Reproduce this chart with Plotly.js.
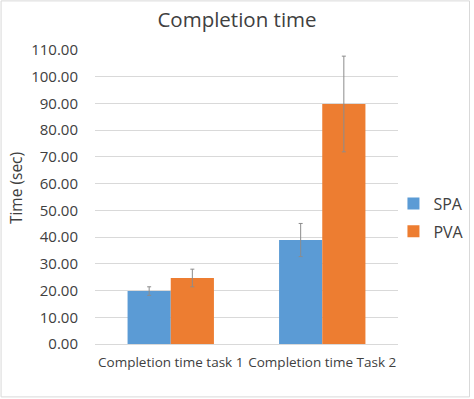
<!DOCTYPE html>
<html><head><meta charset="utf-8">
<script src="https://cdn.plot.ly/plotly-3.0.1.min.js"></script>
<style>html,body{margin:0;padding:0;background:#fff}#chart{width:474px;height:399px}</style>
</head><body><div id="chart"></div>
<script>
const categories = ["Completion time task 1", "Completion time Task 2"];
const spaValues = [19.8, 38.9];
const spaErrors = [1.6, 6.2];
const pvaValues = [24.7, 89.8];
const pvaErrors = [3.3, 17.9];
const yTicks = [0,10,20,30,40,50,60,70,80,90,100,110];

const errStyle = {type:'data', visible:true, color:'#8c8c8c', thickness:1, width:2};
const traces = [
  {type:'bar', name:'SPA', legendgroup:'a', x:categories, y:spaValues, marker:{color:'#5B9BD5'},
   error_y:Object.assign({array:spaErrors}, errStyle)},
  {type:'bar', name:'PVA', legendgroup:'b', x:categories, y:pvaValues, marker:{color:'#ED7D31'},
   error_y:Object.assign({array:pvaErrors}, errStyle)}
];
const layout = {
  width:474, height:399,
  margin:{l:95, r:76, t:50, b:55, autoexpand:false},
  paper_bgcolor:'#fff', plot_bgcolor:'#fff',
  font:{family:'Open Sans, sans-serif', color:'#595959'},
  title:{text:'Completion time', font:{size:20.5, color:'#404040'}, x:0.5, xanchor:'center', y:0.95, yanchor:'middle'},
  barmode:'group', bargap:0.43, bargroupgap:0,
  xaxis:{type:'category', showgrid:false, showline:false, ticks:'', automargin:false, ticklabelstandoff:8, tickfont:{size:13.5, color:'#404040'}},
  yaxis:{range:[0,110], tickvals:yTicks, ticktext:yTicks.map(v=>v.toFixed(2)),
    showgrid:true, gridcolor:'#d9d9d9', zeroline:true, zerolinecolor:'#d9d9d9', zerolinewidth:1,
    tickfont:{size:15, color:'#404040'}, ticks:'', ticklen:0, automargin:false, ticklabelstandoff:16},
  annotations:[{text:'Time (sec)', xref:'paper', yref:'paper', x:-0.261, y:0.53, xanchor:'center', yanchor:'middle', textangle:-90, showarrow:false, font:{size:15.5, color:'#404040'}}],
  legend:{x:0.985, xanchor:'left', y:0.43, yanchor:'middle', font:{size:16, color:'#404040'}, traceorder:'grouped', tracegroupgap:4, itemwidth:30, bgcolor:'rgba(0,0,0,0)'},
  showlegend:true,
  shapes:[{type:'rect', xref:'paper', yref:'paper', x0:-0.31, x1:1.236, y0:-0.18, y1:1.167, line:{color:'#d9d9d9', width:1}, layer:'below'}]
};
Plotly.newPlot('chart', traces, layout, {displayModeBar:false, staticPlot:true});
</script></body></html>
